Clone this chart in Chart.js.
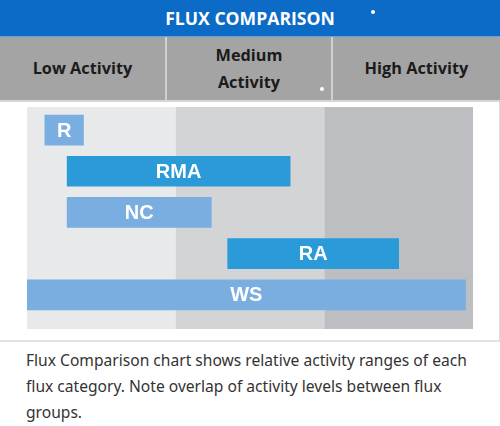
<!DOCTYPE html>
<html>
<head>
<meta charset="utf-8">
<script src="https://cdn.jsdelivr.net/npm/chart.js@4/dist/chart.umd.min.js"></script>
<style>
  html, body { margin: 0; padding: 0; background: #fff; }
  body { width: 500px; height: 426px; overflow: hidden; font-family: "Open Sans", sans-serif; }
  .title {
    height: 36px; line-height: 36px; background: #0b6bc6; color: #fff;
    text-align: center; font-weight: 700; font-size: 17.6px;
    border-bottom: 1px solid #5da3de; position: relative;
  }
  .title .dot, .hdr .dot { position: absolute; width: 4px; height: 4px; border-radius: 2px; background: #fff; }
  .hdr { display: flex; height: 63px; background: #a4a4a4; border-bottom: 2px solid #d6d6d6; position: relative; }
  .hdr div.cell {
    display: flex; align-items: center; justify-content: center; text-align: center;
    font-weight: 700; font-size: 16.3px; color: #1b1b1b; line-height: 27px;
  }
  .hdr .c1 { width: 165px; border-right: 2px solid #d0d0d0; }
  .hdr .c2 { width: 164px; border-right: 2px solid #d0d0d0; }
  .hdr .c3 { flex: 1; }
  .wrap { height: 238px; border-right: 1px solid #dcdcdc; border-bottom: 2px solid #e2e2e2; }
  .caption {
    padding: 5px 20px 0 26px; font-family: "Noto Sans", sans-serif; font-size: 15.6px;
    line-height: 26px; color: #333;
  }
</style>
</head>
<body>
<div class="title">FLUX COMPARISON<span class="dot" style="left:371px;top:10px"></span></div>
<div class="hdr">
  <div class="cell c1">Low Activity</div>
  <div class="cell c2">Medium<br>Activity</div>
  <div class="cell c3">High Activity</div>
  <span class="dot" style="left:320px;top:50px"></span>
</div>
<div class="wrap"><canvas id="chart" width="499" height="238"></canvas></div>
<div class="caption">Flux Comparison chart shows relative activity ranges of each flux category. Note overlap of activity levels between flux groups.</div>

<script>
// flux categories, top to bottom
var categories = ['R', 'RMA', 'NC', 'RA', 'WS'];
// activity range of each flux (0-1 low, 1-2 medium, 2-3 high)
var rangeStart = [0.12, 0.27, 0.27, 1.35, 0.0];
var rangeEnd   = [0.38, 1.77, 1.24, 2.50, 2.95];
var barColors  = ['#7aaee0', '#2a9ad8', '#7aaee0', '#2a9ad8', '#7aaee0'];
// activity level bands
var bandEdges  = [0, 1, 2, 3];
var bandColors = ['#e8e9eb', '#d3d4d6', '#bdbec2'];

var rows = categories.map(function (c, i) {
    return { x: [rangeStart[i], rangeEnd[i]], y: i };
});

var bandsPlugin = {
    id: 'bands',
    beforeDatasetsDraw: function (chart) {
        var ctx = chart.ctx, xs = chart.scales.x, area = chart.chartArea;
        ctx.save();
        for (var i = 0; i < bandColors.length; i++) {
            var x0 = xs.getPixelForValue(bandEdges[i]);
            var x1 = xs.getPixelForValue(bandEdges[i + 1]);
            ctx.fillStyle = bandColors[i];
            ctx.fillRect(x0, area.top, x1 - x0, area.bottom - area.top);
        }
        ctx.restore();
    }
};

var labelsPlugin = {
    id: 'barLabels',
    afterDatasetsDraw: function (chart) {
        var ctx = chart.ctx;
        var meta = chart.getDatasetMeta(0);
        ctx.save();
        ctx.fillStyle = '#fff';
        ctx.font = 'bold 20px "Liberation Sans", Arial, sans-serif';
        ctx.textAlign = 'center';
        ctx.textBaseline = 'middle';
        meta.data.forEach(function (bar, i) {
            ctx.fillText(categories[i], (bar.x + bar.base) / 2, bar.y + 1);
        });
        ctx.restore();
    }
};

var config = {
    type: 'bar',
    data: {
        datasets: [{
            data: rows,
            backgroundColor: barColors,
            borderWidth: 0,
            barThickness: 30
        }]
    },
    options: {
        indexAxis: 'y',
        responsive: false,
        animation: false,
        layout: { padding: { left: 27, right: 26, top: 5, bottom: 11 } },
        scales: {
            x: { type: 'linear', min: 0, max: 3, display: false },
            y: { type: 'linear', min: -0.56, max: 4.83, reverse: true, offset: false, display: false }
        },
        plugins: {
            legend: { display: false },
            tooltip: { enabled: false }
        }
    },
    plugins: [bandsPlugin, labelsPlugin]
};

new Chart(document.getElementById('chart').getContext('2d'), config);
</script>
</body>
</html>
